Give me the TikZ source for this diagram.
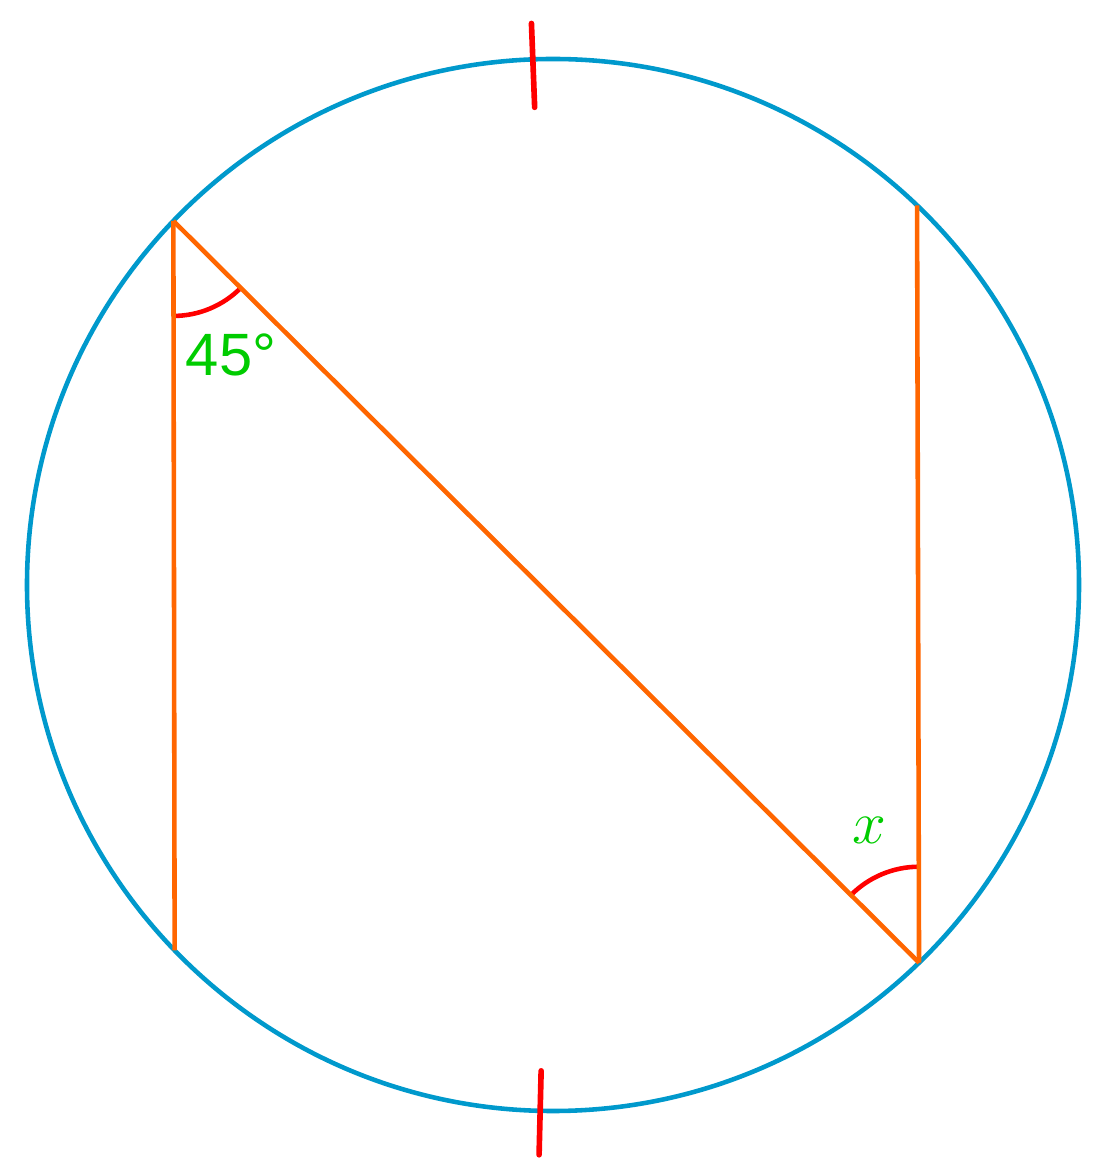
\documentclass[tikz,border=0pt]{standalone}
\usepackage{fontspec}
\newfontfamily\labelfont{Liberation Sans}
\definecolor{rimblue}{HTML}{0099CC}
\definecolor{chordorange}{HTML}{FF6600}
\definecolor{markred}{HTML}{FF0000}
\definecolor{lblgreen}{HTML}{00CC00}
\begin{document}
\begin{tikzpicture}
  [line width=1.3pt,
   rimline/.style={rimblue},
   chordline/.style={chordorange},
   tickline/.style={markred, line width=1.6pt, line cap=round},
   anglearc/.style={markred}]
\useasboundingbox (-5.53,-5.79) rectangle (5.53,5.85);
\coordinate (o) at (0,0);
\coordinate (p1) at (136.2:5.26);
\coordinate (p2) at (224.0:5.26);
\coordinate (p3) at (46.2:5.26);
\coordinate (p4) at (-45.9:5.26);

 \draw[rimline] (o) circle (5.26);
 \draw[tickline] (92.2:4.78) -- (92.2:5.62);
 \draw[tickline] (268.6:4.86) -- (268.6:5.70);

 \draw[anglearc] (p1) ++(-90:0.95) arc (-90:-44.9:0.95);
 \draw[anglearc] (p4) ++(90.2:0.96) arc (90.2:135.1:0.96);

 \path[chordline]
   (p1) edge (p2)
   (p1) edge (p4)
   (p3) edge (p4);

\node (a1) [lblgreen, font=\labelfont\fontsize{17}{20}\selectfont] at (-3.22,2.30) {45°};
\node (a2) [lblgreen, font=\fontsize{18}{20}\selectfont] at (3.16,-2.45) {$x$};
\end{tikzpicture}
\end{document}
